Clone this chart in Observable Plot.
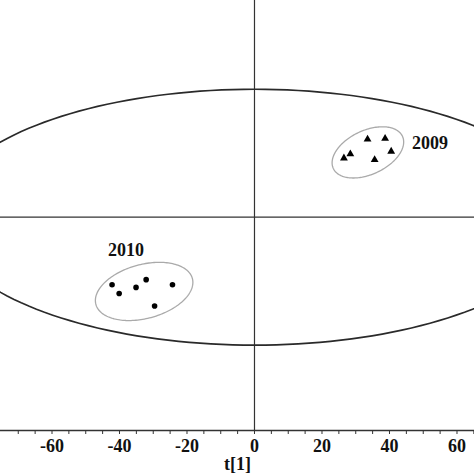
<!DOCTYPE html>
<html>
<head>
<meta charset="utf-8">
<script src="https://cdn.jsdelivr.net/npm/d3@7"></script>
<script src="https://cdn.jsdelivr.net/npm/@observablehq/plot@0.6"></script>
<style>
  html, body { margin: 0; padding: 0; background: #fff; }
</style>
</head>
<body>
<div id="chart"></div>
<script>
// Scores (t[1], t[2])
const y2009_t1 = [26.5, 28.4, 33.5, 38.7, 40.5, 35.6];
const y2009_t2 = [17.5, 18.7, 23.1, 23.3, 19.5, 17.0];
const y2010_t1 = [-42.2, -40.1, -35.1, -32.1, -24.3, -29.6];
const y2010_t2 = [-20.0, -22.6, -20.8, -18.5, -20.0, -26.3];

// Group labels and their anchor (data units)
const groupNames = ["2009", "2010"];
const groupLabelT1 = [52.0, -38.1];
const groupLabelT2 = [21.9, -9.9];

// Group ellipses: center t1, center t2, semi-axis a, semi-axis b, angle (deg)
const groupEllipseCx = [33.6, -32.7];
const groupEllipseCy = [19.2, -22.0];
const groupEllipseA = [11.3, 14.8];
const groupEllipseB = [6.5, 8.0];
const groupEllipseAngle = [25, 15];

// Hotelling T2 ellipse: semi-axes
const t2EllipseA = [93.0];
const t2EllipseB = [37.9];

// Axis ticks
const xLabels = [-60, -40, -20, 0, 20, 40, 60];
const xMinor = d3.range(-70, 66, 5);
const xDomain = [-75.26, 65.19];
const yDomain = [-63.2, 64.2];

function ellipse(cx, cy, a, b, deg) {
  const t = deg * Math.PI / 180;
  return d3.range(0, 361, 2).map(k => {
    const u = k * Math.PI / 180;
    return {
      x: cx + a * Math.cos(u) * Math.cos(t) - b * Math.sin(u) * Math.sin(t),
      y: cy + a * Math.cos(u) * Math.sin(t) + b * Math.sin(u) * Math.cos(t)
    };
  });
}

const pts2009 = y2009_t1.map((x, i) => ({x, y: y2009_t2[i]}));
const pts2010 = y2010_t1.map((x, i) => ({x, y: y2010_t2[i]}));
const labels = groupNames.map((name, i) => ({name, x: groupLabelT1[i], y: groupLabelT2[i]}));
const groupEllipses = groupNames.map((name, i) =>
  ellipse(groupEllipseCx[i], groupEllipseCy[i], groupEllipseA[i], groupEllipseB[i], groupEllipseAngle[i]));
const bigEllipse = ellipse(0, 0, t2EllipseA[0], t2EllipseB[0], 0);

const chart = Plot.plot({
  width: 474,
  height: 474,
  marginTop: 0,
  marginRight: 0,
  marginLeft: 0,
  marginBottom: 44,
  style: {fontFamily: "'Liberation Serif', 'Times New Roman', serif", fontWeight: "bold", fontSize: "18px", color: "#111", background: "#fff"},
  x: {domain: xDomain},
  y: {domain: yDomain, axis: null},
  marks: [
    Plot.ruleY([0], {stroke: "#333", strokeWidth: 1.2}),
    Plot.ruleX([0], {stroke: "#333", strokeWidth: 1.2}),
    Plot.line(bigEllipse, {x: "x", y: "y", stroke: "#2a2a2a", strokeWidth: 1.7, clip: true}),
    ...groupEllipses.map(e => Plot.line(e, {x: "x", y: "y", stroke: "#aaa", strokeWidth: 1.3, clip: true})),
    Plot.dot(pts2009, {x: "x", y: "y", symbol: "triangle", r: 2.9, fill: "#000", stroke: "none"}),
    Plot.dot(pts2010, {x: "x", y: "y", symbol: "circle", r: 2.8, fill: "#000", stroke: "none"}),
    Plot.text(labels, {x: "x", y: "y", text: "name", fontSize: 18, fontWeight: "bold", fill: "#111"}),
    Plot.ruleY([yDomain[0]], {stroke: "#333", strokeWidth: 1.3}),
    Plot.axisX({ticks: xMinor, tickSize: 4, tickFormat: () => "", stroke: "#333", label: null}),
    Plot.axisX({ticks: xLabels, tickSize: 0, tickPadding: 9, tickFormat: d => String(d), fontSize: 18,
      label: "t[1]", labelAnchor: "center", labelArrow: "none", labelOffset: 39})
  ]
});
document.getElementById("chart").appendChild(chart);
</script>
</body>
</html>
